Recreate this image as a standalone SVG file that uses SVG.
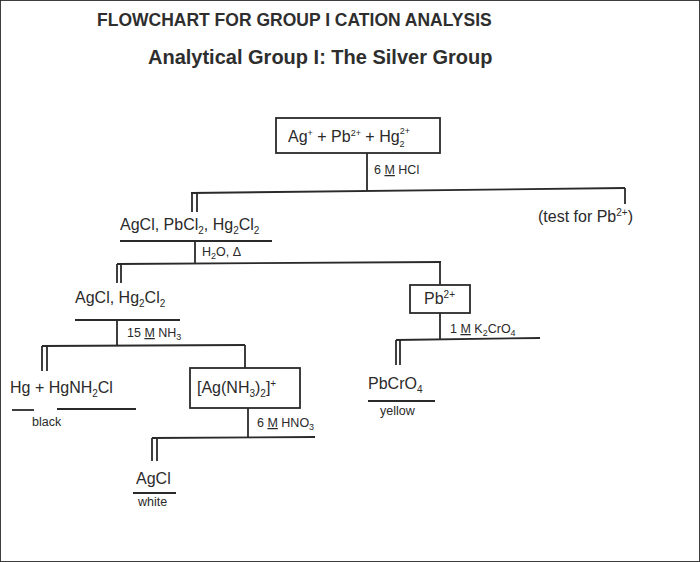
<svg xmlns="http://www.w3.org/2000/svg" width="700" height="562" viewBox="0 0 700 562">
<style>
text{font-family:"Liberation Sans",Arial,sans-serif;fill:#2a2a2a}
.m{font-size:16px}.s{font-size:12.5px}.t{font-size:17.5px;font-weight:bold;fill:#2e2e2e}
line,rect{stroke:#2a2a2a;stroke-width:1.8;fill:none}
.u{text-decoration:underline}
</style>
<rect width="700" height="562" fill="#d9d7d4"/>
<text class="t" x="97" y="26">FLOWCHART FOR GROUP I CATION ANALYSIS</text>
<text class="t" x="148" y="64" style="font-size:20px">Analytical Group I: The Silver Group</text>
<g id="n-top"><rect x="276" y="118" width="164" height="35"/><text class="m" x="288" y="142">Ag<tspan dy="-6" font-size="9">+</tspan><tspan dy="6"> + Pb</tspan><tspan dy="-6" font-size="9">2+</tspan><tspan dy="6"> + Hg</tspan><tspan dy="5" font-size="9">2</tspan><tspan dx="-5" dy="-13" font-size="9">2+</tspan></text></g>
<g id="n-ppt1"><text class="m" x="120" y="230">AgCl, PbCl<tspan dy="4" font-size="10">2</tspan><tspan dy="-4">, Hg</tspan><tspan dy="4" font-size="10">2</tspan><tspan dy="-4">Cl</tspan><tspan dy="4" font-size="10">2</tspan></text></g>
<g id="n-test"><text class="m" x="538" y="222">(test for Pb<tspan dy="-6" font-size="10">2+</tspan><tspan dy="6">)</tspan></text></g>
<g id="n-ppt2"><text class="m" x="75" y="303">AgCl, Hg<tspan dy="4" font-size="10">2</tspan><tspan dy="-4">Cl</tspan><tspan dy="4" font-size="10">2</tspan></text></g>
<g id="n-pb"><rect x="410" y="285" width="60" height="28"/><text class="m" x="424" y="304">Pb<tspan dy="-6" font-size="10">2+</tspan></text></g>
<g id="n-hg"><text class="m" x="10" y="393">Hg + HgNH<tspan dy="4" font-size="10">2</tspan><tspan dy="-4">Cl</tspan></text><line x1="12" y1="410" x2="34" y2="410"/><line x1="57" y1="409" x2="136" y2="409"/><text class="s" x="32" y="426">black</text></g>
<g id="n-agnh3"><rect x="190" y="368" width="110" height="40"/><text class="m" x="197" y="393">[Ag(NH<tspan dy="4" font-size="10">3</tspan><tspan dy="-4">)</tspan><tspan dy="4" font-size="10">2</tspan><tspan dy="-4">]</tspan><tspan dy="-6" font-size="10">+</tspan></text></g>
<g id="n-pbcro4"><text class="m" x="368" y="389">PbCrO<tspan dy="4" font-size="10">4</tspan></text><line x1="368" y1="401" x2="435" y2="401"/><text class="s" x="380" y="415">yellow</text></g>
<g id="n-agcl"><text class="m" x="136" y="484">AgCl</text><line x1="133" y1="493" x2="176" y2="493"/><text class="s" x="138" y="506">white</text></g>
<g id="connectors">
<line x1="367" y1="153" x2="367" y2="191"/><line x1="191" y1="193" x2="625" y2="188"/><line x1="625" y1="188" x2="625" y2="204"/>
<line x1="192" y1="193" x2="192" y2="212"/><line x1="197" y1="193" x2="197" y2="212"/>
<line x1="120" y1="241" x2="272" y2="241"/><line x1="195" y1="241" x2="195" y2="263"/>
<line x1="117" y1="264" x2="441" y2="262"/><line x1="440" y1="262" x2="440" y2="285"/>
<line x1="117" y1="264" x2="117" y2="283"/><line x1="121" y1="264" x2="121" y2="283"/>
<line x1="75" y1="320" x2="180" y2="320"/><line x1="117" y1="320" x2="117" y2="346"/>
<line x1="42" y1="346" x2="245" y2="345"/><line x1="245" y1="345" x2="245" y2="368"/>
<line x1="42" y1="346" x2="42" y2="371"/><line x1="47" y1="346" x2="47" y2="371"/>
<line x1="248" y1="408" x2="248" y2="437"/><line x1="152" y1="438" x2="315" y2="437"/>
<line x1="152" y1="438" x2="152" y2="461"/><line x1="157" y1="438" x2="157" y2="461"/>
<line x1="440" y1="313" x2="440" y2="339"/><line x1="396" y1="340" x2="540" y2="338"/>
<line x1="396" y1="340" x2="396" y2="365"/><line x1="400" y1="340" x2="400" y2="365"/>
</g>
<g class="s">
<text class="s" x="374" y="174">6 <tspan class="u">M</tspan> HCl</text>
<text class="s" x="202" y="256">H<tspan dy="3" font-size="9">2</tspan><tspan dy="-3">O, Δ</tspan></text>
<text class="s" x="127" y="337">15 <tspan class="u">M</tspan> NH<tspan dy="3" font-size="9">3</tspan></text>
<text class="s" x="257" y="427">6 <tspan class="u">M</tspan> HNO<tspan dy="3" font-size="9">3</tspan></text>
<text class="s" x="450" y="333">1 <tspan class="u">M</tspan> K<tspan dy="3" font-size="9">2</tspan><tspan dy="-3">CrO</tspan><tspan dy="3" font-size="9">4</tspan></text>
</g>
</svg>
